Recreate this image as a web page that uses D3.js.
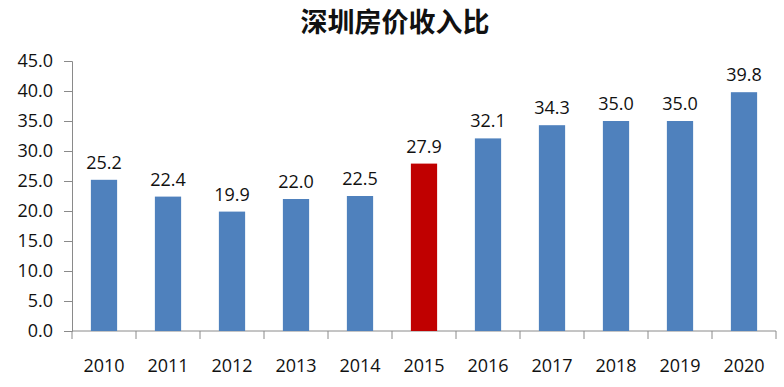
<!DOCTYPE html>
<html>
<head>
<meta charset="utf-8">
<script src="https://cdn.jsdelivr.net/npm/d3@7"></script>
<style>
  body { margin: 0; background: #fff; }
  text { font-family: "Open Sans", "Liberation Sans", sans-serif; }
</style>
</head>
<body>
<svg id="chart"></svg>
<script>
const years = ["2010", "2011", "2012", "2013", "2014", "2015", "2016", "2017", "2018", "2019", "2020"];
const ratios = [25.2, 22.4, 19.9, 22.0, 22.5, 27.9, 32.1, 34.3, 35.0, 35.0, 39.8];
const highlightYear = "2015";
const yTicks = [0, 5, 10, 15, 20, 25, 30, 35, 40, 45];

const width = 784, height = 387;
const margin = {top: 61, right: 8, bottom: 56, left: 72};

const svg = d3.select("#chart")
    .attr("width", width)
    .attr("height", height);

// title
svg.append("text")
    .attr("x", 395)
    .attr("y", 32)
    .attr("text-anchor", "middle")
    .style("font-family", "'Noto Sans CJK SC', sans-serif")
    .style("font-size", "27px")
    .style("font-weight", "bold")
    .attr("fill", "#111")
    .text("深圳房价收入比");

const x = d3.scaleBand()
    .domain(years)
    .range([margin.left, width - margin.right])
    .paddingInner(0.59)
    .paddingOuter(0.295);

const y = d3.scaleLinear()
    .domain([0, 45])
    .range([height - margin.bottom, margin.top]);

const axisColor = "#8a8a8a";

// y axis
const yAxis = svg.append("g")
    .attr("transform", `translate(${margin.left},0)`)
    .call(d3.axisLeft(y).tickValues(yTicks).tickFormat(d3.format(".1f")).tickSize(8).tickPadding(11));
yAxis.select(".domain").attr("stroke", axisColor);
yAxis.selectAll(".tick line").attr("stroke", axisColor);
yAxis.selectAll(".tick text").style("font-size", "18px").attr("fill", "#111");

// x axis with ticks between categories
const xg = svg.append("g")
    .attr("transform", `translate(0,${height - margin.bottom})`);
xg.append("line")
    .attr("x1", margin.left).attr("x2", width - margin.right)
    .attr("stroke", axisColor);
const boundaries = d3.range(years.length + 1).map(i => margin.left + i * (width - margin.left - margin.right) / years.length);
xg.selectAll("line.tk")
    .data(boundaries)
    .join("line")
    .attr("class", "tk")
    .attr("x1", d => d).attr("x2", d => d)
    .attr("y1", 0).attr("y2", 8)
    .attr("stroke", axisColor);
xg.selectAll("text")
    .data(years)
    .join("text")
    .attr("x", d => x(d) + x.bandwidth() / 2)
    .attr("y", 41)
    .attr("text-anchor", "middle")
    .style("font-size", "18px")
    .attr("fill", "#111")
    .text(d => d);

// bars
const data = years.map((yr, i) => ({year: yr, value: ratios[i]}));
svg.append("g")
    .selectAll("rect")
    .data(data)
    .join("rect")
    .attr("x", d => x(d.year))
    .attr("y", d => y(d.value))
    .attr("width", x.bandwidth())
    .attr("height", d => y(0) - y(d.value))
    .attr("fill", d => d.year === highlightYear ? "#c00000" : "#4f81bd");

// value labels
svg.append("g")
    .selectAll("text")
    .data(data)
    .join("text")
    .attr("x", d => x(d.year) + x.bandwidth() / 2)
    .attr("y", d => y(d.value) - 11)
    .attr("text-anchor", "middle")
    .style("font-size", "18px")
    .attr("fill", "#111")
    .text(d => d3.format(".1f")(d.value));
</script>
</body>
</html>
